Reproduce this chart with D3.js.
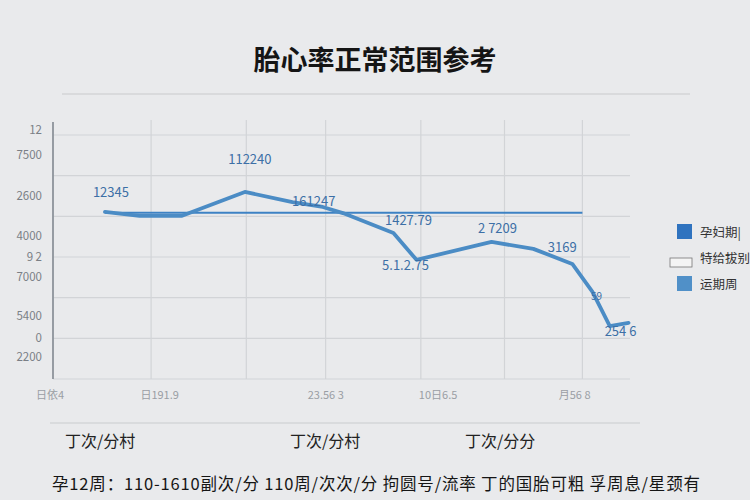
<!DOCTYPE html>
<html>
<head>
<meta charset="utf-8">
<script src="https://cdn.jsdelivr.net/npm/d3@7/dist/d3.min.js"></script>
<style>
  body { margin: 0; background: #e9eaec; }
  svg { display: block; font-family: "Noto Sans CJK SC", "Noto Sans", sans-serif; }
</style>
</head>
<body>
<div id="chart"></div>
<script>
// chart data (gestational week, beats per minute)
var weeks = [3.6, 6.0, 8.9, 13.3, 16.6, 18.7, 20.1, 23.6, 25.2, 30.4, 33.3, 36.0, 37.4, 38.6, 39.9];
var rates = [161.1, 160.1, 160.1, 166.0, 163.5, 162.3, 160.8, 155.9, 149.3, 153.7, 152.0, 148.3, 141.4, 133.0, 133.8];

// reference line
var refRate = 160.9;
var refStart = 3.6, refEnd = 36.7;

// point labels: index into series + text
var pointLabelIdx = [0, 3, 5, 7, 8, 9, 11, 12, 14];
var pointLabelText = ["12345", "112240", "161247", "1427.79", "5.1.2.75", "2 7209", "3169", "59", "254 6"];

// axes
var yGrid = [120, 130, 140, 150, 160, 170, 180];
var yTickValues = [181.2, 175.1, 165, 155.2, 150, 145.1, 135.5, 130.1, 125.4];
var yTickLabels = ["12", "7500", "2600", "4000", "9 2", "7000", "5400", "0", "2200"];
var xGrid = [6.8, 13.4, 18.9, 25.5, 31.3, 36.7];
var xTickValues = [0, 7.1, 18.7, 26.4, 36.1];
var xTickLabels = ["日依4", "日191.9", "23.56 3", "10日6.5", "月56 8"];

var legendLabels = ["孕妇期|", "特给拔别", "运期周"];
var unitLabels = ["丁次/分村", "丁次/分村", "丁次/分分"];
var footText = "孕12周：110-1610副次/分  110周/次次/分  拘圆号/流率  丁的国胎可粗  孚周息/星颈有";

var W = 750, H = 500;
var svg = d3.select("#chart").append("svg")
    .attr("width", W)
    .attr("height", H);

svg.append("rect").attr("width", W).attr("height", H).attr("fill", "#e9eaec");

// title
svg.append("text")
    .attr("x", 375).attr("y", 70)
    .attr("text-anchor", "middle")
    .style("font-size", "27px").style("font-weight", "bold")
    .attr("fill", "#151515")
    .text("胎心率正常范围参考");

svg.append("line")
    .attr("x1", 62).attr("x2", 690).attr("y1", 94).attr("y2", 94)
    .attr("stroke", "#d3d4d7").attr("stroke-width", 1.5);

// scales
var x = d3.scaleLinear().domain([0, 40]).range([53, 630]);
var y = d3.scaleLinear().domain([120, 180]).range([379, 135]);

// grid
svg.selectAll(".hgrid").data(yGrid).enter().append("line")
    .attr("class", "hgrid")
    .attr("x1", x(0)).attr("x2", x(40))
    .attr("y1", function(d) { return y(d); })
    .attr("y2", function(d) { return y(d); })
    .attr("stroke", "#d2d4d7").attr("stroke-width", 1.2);

svg.selectAll(".vgrid").data(xGrid).enter().append("line")
    .attr("class", "vgrid")
    .attr("x1", function(d) { return x(d); })
    .attr("x2", function(d) { return x(d); })
    .attr("y1", y(183.7)).attr("y2", y(120))
    .attr("stroke", "#d2d4d7").attr("stroke-width", 1.2);

// y axis line + labels
svg.append("line")
    .attr("x1", x(0)).attr("x2", x(0))
    .attr("y1", y(183.2)).attr("y2", y(120))
    .attr("stroke", "#8d939b").attr("stroke-width", 1.8);

svg.selectAll(".ylab").data(yTickValues).enter().append("text")
    .attr("class", "ylab")
    .attr("x", 42)
    .attr("y", function(d) { return y(d) + 4; })
    .attr("text-anchor", "end")
    .style("font-size", "11.5px")
    .attr("fill", "#7a7f86")
    .text(function(d, i) { return yTickLabels[i]; });

// x labels
svg.selectAll(".xlab").data(xTickValues).enter().append("text")
    .attr("class", "xlab")
    .attr("x", function(d) { return x(d); })
    .attr("y", 399)
    .attr("text-anchor", "start")
    .style("font-size", "11px")
    .attr("fill", "#9a9ea4")
    .attr("dx", function(d, i) { return i === 0 ? -17 : -15; })
    .text(function(d, i) { return xTickLabels[i]; });

// reference line
svg.append("line")
    .attr("x1", x(refStart)).attr("x2", x(refEnd))
    .attr("y1", y(refRate)).attr("y2", y(refRate))
    .attr("stroke", "#3d82c4").attr("stroke-width", 2);

// data line
var series = weeks.map(function(w, i) { return { w: w, r: rates[i] }; });
var line = d3.line()
    .x(function(d) { return x(d.w); })
    .y(function(d) { return y(d.r); });

svg.append("path")
    .datum(series)
    .attr("d", line)
    .attr("fill", "none")
    .attr("stroke", "#4b8cc5")
    .attr("stroke-width", 3.8)
    .attr("stroke-linejoin", "round")
    .attr("stroke-linecap", "round");

// point labels
var labelOffsets = [[6, -15], [5, -28], [-9, -1], [15, -8], [-11, 10], [6, -9], [-10, -12], [4, 8], [-8, 13]];
svg.selectAll(".plab").data(pointLabelIdx).enter().append("text")
    .attr("class", "plab")
    .attr("x", function(d, i) { return x(weeks[d]) + labelOffsets[i][0]; })
    .attr("y", function(d, i) { return y(rates[d]) + labelOffsets[i][1]; })
    .attr("text-anchor", "middle")
    .style("font-size", function(d, i) { return i === 7 ? "10px" : "13px"; })
    .attr("fill", "#3c6fa6")
    .text(function(d, i) { return pointLabelText[i]; });

// legend
var legend = svg.append("g").attr("transform", "translate(670,224)");
var legendFill = ["#2f73bf", "#f4f4f4", "#5090c8"];
legend.selectAll("rect").data(legendLabels).enter().append("rect")
    .attr("x", function(d, i) { return i === 1 ? 0 : 7; })
    .attr("y", function(d, i) { return i * 26 + (i === 1 ? 8 : 0); })
    .attr("width", function(d, i) { return i === 1 ? 22 : 15; })
    .attr("height", function(d, i) { return i === 1 ? 9 : 15; })
    .attr("fill", function(d, i) { return legendFill[i]; })
    .attr("stroke", function(d, i) { return i === 1 ? "#777" : "none"; })
    .attr("stroke-width", 0.8);

legend.selectAll("text").data(legendLabels).enter().append("text")
    .attr("x", 30)
    .attr("y", function(d, i) { return i * 26 + 13; })
    .style("font-size", "12.5px")
    .attr("fill", "#333")
    .text(function(d) { return d; });

// divider + units row
svg.append("line")
    .attr("x1", 50).attr("x2", 640).attr("y1", 423).attr("y2", 423)
    .attr("stroke", "#c9cbce").attr("stroke-width", 1.2);

var unitX = [65, 290, 465];
svg.selectAll(".unit").data(unitLabels).enter().append("text")
    .attr("class", "unit")
    .attr("x", function(d, i) { return unitX[i]; })
    .attr("y", 447)
    .style("font-size", "16px")
    .attr("fill", "#222")
    .text(function(d) { return d; });

svg.append("text")
    .attr("x", 52).attr("y", 490)
    .style("font-size", "16.5px")
    .attr("fill", "#151515")
    .attr("textLength", 648)
    .text(footText);
</script>
</body>
</html>
